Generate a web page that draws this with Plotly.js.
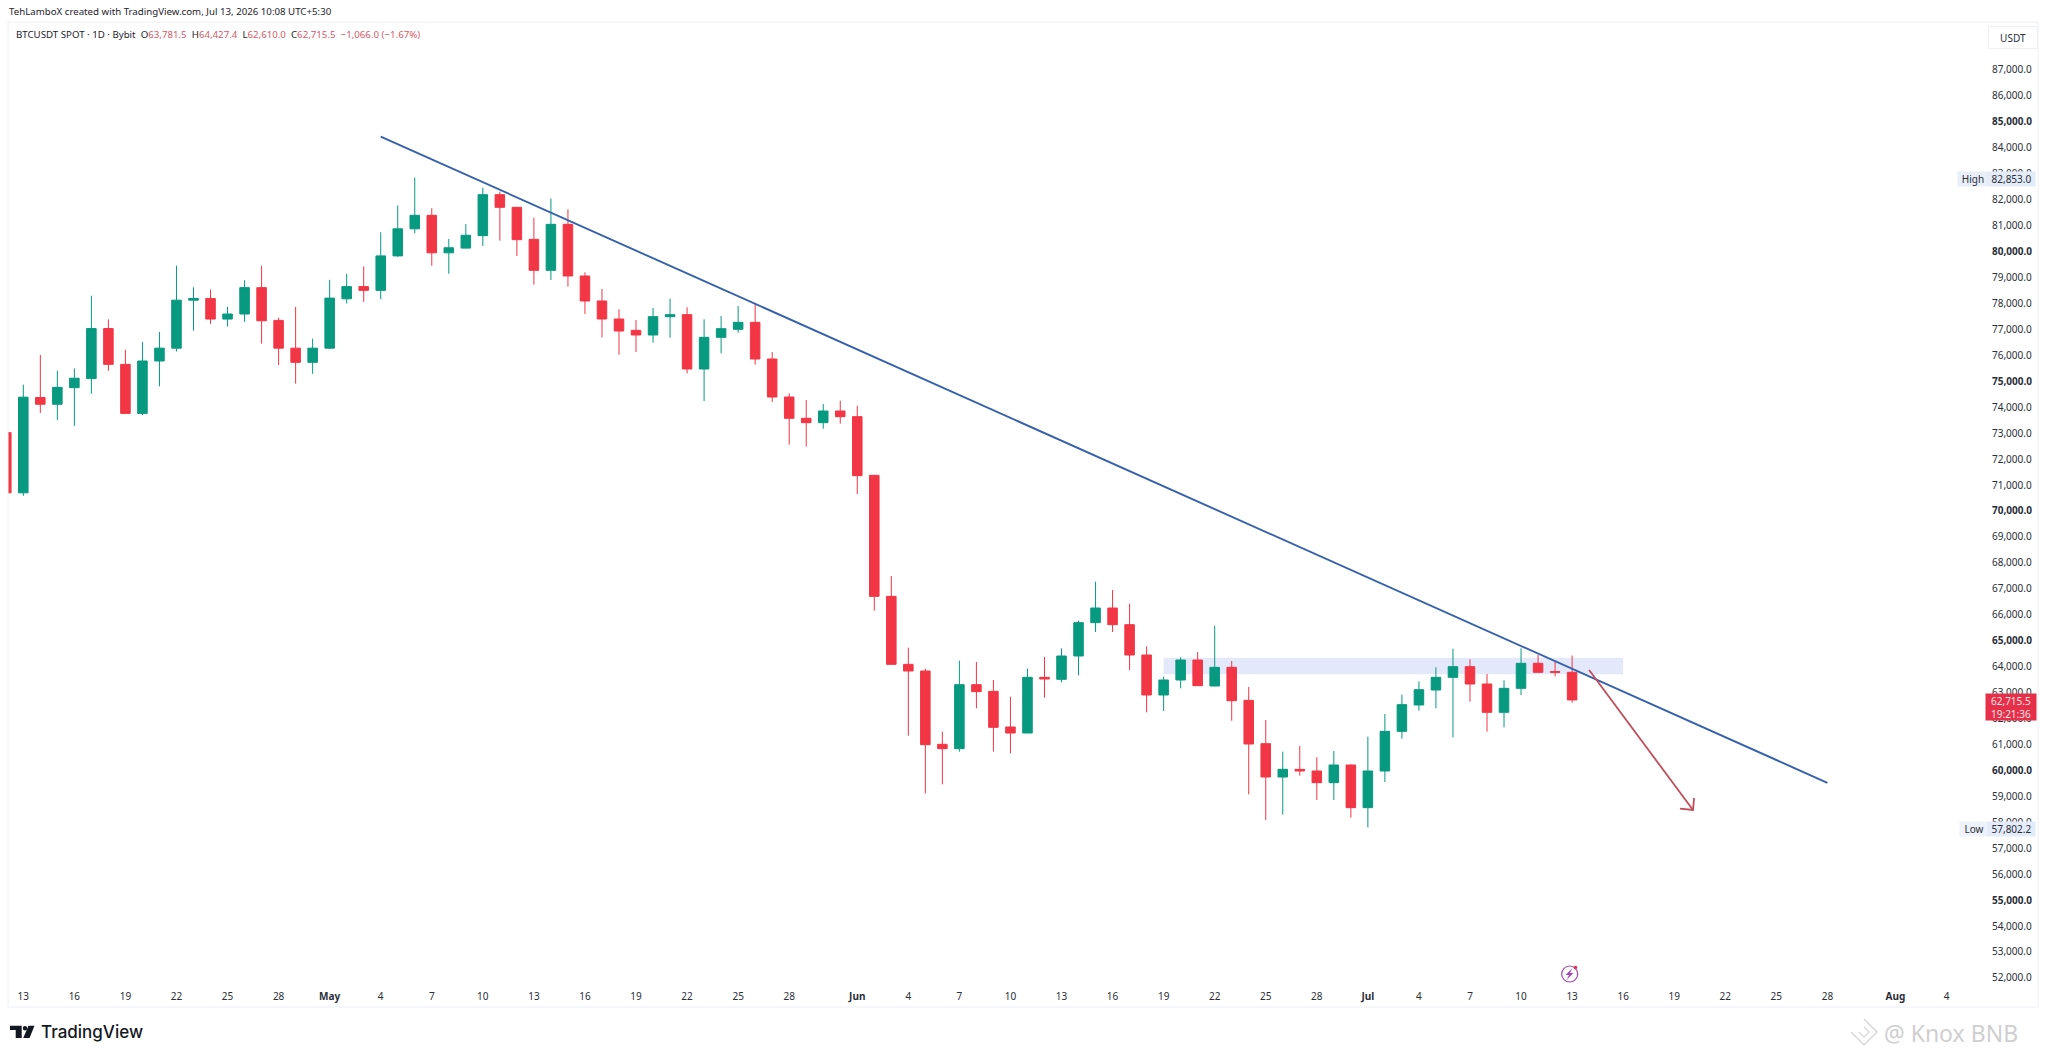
<!DOCTYPE html>
<html>
<head>
<meta charset="utf-8">
<script src="https://cdn.plot.ly/plotly-3.0.1.min.js"></script>
<style>html,body{margin:0;padding:0;background:#fff}#chart{width:2048px;height:1057px}</style>
</head>
<body>
<div id="chart"></div>
<script>
var dates = ["2026-04-12","2026-04-13","2026-04-14","2026-04-15","2026-04-16","2026-04-17","2026-04-18","2026-04-19","2026-04-20","2026-04-21","2026-04-22","2026-04-23","2026-04-24","2026-04-25","2026-04-26","2026-04-27","2026-04-28","2026-04-29","2026-04-30",
"2026-05-01","2026-05-02","2026-05-03","2026-05-04","2026-05-05","2026-05-06","2026-05-07","2026-05-08","2026-05-09","2026-05-10","2026-05-11","2026-05-12","2026-05-13","2026-05-14","2026-05-15","2026-05-16","2026-05-17","2026-05-18","2026-05-19","2026-05-20","2026-05-21","2026-05-22","2026-05-23","2026-05-24","2026-05-25","2026-05-26","2026-05-27","2026-05-28","2026-05-29","2026-05-30","2026-05-31",
"2026-06-01","2026-06-02","2026-06-03","2026-06-04","2026-06-05","2026-06-06","2026-06-07","2026-06-08","2026-06-09","2026-06-10","2026-06-11","2026-06-12","2026-06-13","2026-06-14","2026-06-15","2026-06-16","2026-06-17","2026-06-18","2026-06-19","2026-06-20","2026-06-21","2026-06-22","2026-06-23","2026-06-24","2026-06-25","2026-06-26","2026-06-27","2026-06-28","2026-06-29","2026-06-30",
"2026-07-01","2026-07-02","2026-07-03","2026-07-04","2026-07-05","2026-07-06","2026-07-07","2026-07-08","2026-07-09","2026-07-10","2026-07-11","2026-07-12","2026-07-13"];

var opens = [73020,70700,74375,74114,74753,75104,77033,75652,73762,75782,76277,78127,78193,77398,77593,78610,77346,76277,75730,
76277,78180,78649,78505,79834,80877,81398,79952,80134,80614,82194,81706,80472,79277,81050,79059,78095,77401,76964,76784,77491,77568,75474,76694,77003,77272,75859,74394,73572,73405,73854,
73636,71375,66709,64088,63831,61005,60837,63305,63048,61673,61441,63587,63510,64410,65695,66260,65618,64448,62906,63485,64255,63253,63973,62700,61030,59745,60041,59976,59527,60208,
58563,59976,61505,62521,63099,63587,63999,63330,62238,63163,64127,63810,63781.5];

var closes = [70700,74388,74114,74766,75118,77033,75652,73762,75782,76277,78127,78193,77398,77593,78610,77333,76277,75730,76277,
78206,78649,78505,79834,80877,81398,79952,80147,80629,82194,81706,80459,79277,81050,79059,78095,77401,76938,76784,77491,77568,75474,76694,77028,77272,75859,74394,73572,73405,73854,73636,
71362,66709,64088,63831,60992,60837,63305,63035,61660,61441,63587,63523,64410,65695,66260,65618,64448,62906,63485,64255,63266,63973,62687,61017,59745,60041,59976,59527,60208,58563,
59976,61505,62534,63112,63587,63999,63330,62238,63163,64127,63780,63781.5,62715.5];

var highs = [73020,74870,76017,75404,75495,78297,77385,76212,76512,76902,79456,78623,78531,77867,78896,79456,77450,77867,76642,
78909,79144,79430,80746,81776,82853,81672,80486,81059,82464,82310,81706,81307,82040,81629,79200,78558,77774,77362,77825,78185,77851,77388,77517,77902,78005,76129,74535,74279,74124,74253,
74060,71375,67494,64731,63921,61493,64230,64178,63485,62842,63921,64371,64705,65772,67275,66954,66427,64782,63613,64358,64564,65579,64217,63215,61943,60722,60940,60503,60747,60233,
61300,62174,62919,63433,63973,64692,64281,63716,63471,64705,64448,64191,64427.4];

var lows = [70700,70583,73775,73502,73280,74518,75404,73736,73697,74805,76147,76955,77215,77111,77294,76447,75626,74909,75287,
76251,77997,78062,78166,79795,80707,79456,79144,80121,80215,80421,79830,78725,78904,78647,77594,76694,76026,76129,76489,76681,75307,74240,76078,76874,75640,74201,72557,72479,73173,73366,
70655,66157,64088,61338,59115,59463,60722,62392,60722,60658,61441,62803,63395,63664,65335,65335,63870,62238,62289,63163,63266,63240,61917,59077,58087,58293,59797,58858,58858,58177,
57802.2,59552,61223,62302,62392,61274,62649,61493,61660,62906,63780,63626,62610];

var trendX = ["2026-05-04","2026-07-28"];
var trendY = [84433,59521];

var zoneX = ["2026-06-19","2026-07-16"];
var zoneY = [63703,64345];

var arrowX = ["2026-07-14 00:00","2026-07-20 02:30",null,"2026-07-19 08:00","2026-07-20 02:30","2026-07-20 04:00"];
var arrowY = [63870,58473,null,58523,58473,58935];

var xTickDates = ["2026-04-13","2026-04-16","2026-04-19","2026-04-22","2026-04-25","2026-04-28","2026-05-01","2026-05-04","2026-05-07","2026-05-10","2026-05-13","2026-05-16","2026-05-19","2026-05-22","2026-05-25","2026-05-28","2026-06-01","2026-06-04","2026-06-07","2026-06-10","2026-06-13","2026-06-16","2026-06-19","2026-06-22","2026-06-25","2026-06-28","2026-07-01","2026-07-04","2026-07-07","2026-07-10","2026-07-13","2026-07-16","2026-07-19","2026-07-22","2026-07-25","2026-07-28","2026-08-01","2026-08-04"];
var xTickLabels = ["13","16","19","22","25","28","<b>May</b>","4","7","10","13","16","19","22","25","28","<b>Jun</b>","4","7","10","13","16","19","22","25","28","<b>Jul</b>","4","7","10","13","16","19","22","25","28","<b>Aug</b>","4"];

var yTickVals = [52000,53000,54000,55000,56000,57000,58000,59000,60000,61000,62000,63000,64000,65000,66000,67000,68000,69000,70000,71000,72000,73000,74000,75000,76000,77000,78000,79000,80000,81000,82000,83000,84000,85000,86000,87000];
var yTickLabels = yTickVals.map(function(v){
  var s = v.toLocaleString("en-US") + ".0";
  return v % 5000 === 0 ? "<b>" + s + "</b>" : s;
});

var FONT = "Noto Sans";
var GREEN = "#089981", RED = "#f23645";
var L = 8, R = 1985, T = 22, B = 985;
function px(x){ return (x - L) / (R - L); }
function py(y){ return (B - y) / (B - T); }

function label(x, y, text, opts){
  var a = {xref:"paper", yref:"paper", x:px(x), y:py(y), text:text, showarrow:false,
    xanchor:"left", yanchor:"middle", borderpad:0, font:{family:FONT, size:10, color:"#2a2e39"}};
  for (var k in (opts||{})) a[k] = opts[k];
  return a;
}
function frame(x0,y0,x1,y1){
  return {type:"line", xref:"paper", yref:"paper", x0:px(x0), y0:py(y0), x1:px(x1), y1:py(y1),
    line:{color:"#eef0f5", width:1}};
}
function path(pts, fill, line){
  var d = pts.map(function(p,i){ return (i?"L":"M") + px(p[0]) + "," + py(p[1]); }).join(" ");
  if (fill) d += " Z";
  return {type:"path", xref:"paper", yref:"paper", path:d, fillcolor:fill||"rgba(0,0,0,0)",
    line: line||{width:0}, layer:"above"};
}
function circle(cx,cy,r,fill,line){
  return {type:"circle", xref:"paper", yref:"paper", x0:px(cx-r), x1:px(cx+r), y0:py(cy+r), y1:py(cy-r),
    fillcolor:fill||"rgba(0,0,0,0)", line:line||{width:0}, layer:"above"};
}

var red = function(s){ return '<span style="color:#d65a68">' + s + '</span>'; };
var header = "BTCUSDT SPOT · 1D · Bybit  O" + red("63,781.5") + "  H" + red("64,427.4") + "  L" + red("62,610.0") + "  C" + red("62,715.5") + "  " + red("−1,066.0 (−1.67%)");

var annotations = [
  label(8, 12, "TehLamboX created with TradingView.com, Jul 13, 2026 10:08 UTC+5:30", {font:{family:FONT,size:9.7,color:"#1e222d"}}),
  label(15, 34, header, {font:{family:FONT,size:9.7,color:"#1e222d"}}),
  label(2012.5, 37, "USDT", {xanchor:"center", width:48, height:21, bordercolor:"#eef0f5", borderwidth:1, bgcolor:"#fff", align:"center"}),
  label(1973, 179, "High", {xanchor:"center", width:30, height:14, bgcolor:"#e9eff9", align:"center"}),
  label(2011.5, 179, "82,853.0", {xanchor:"center", width:47, height:14, bgcolor:"#e4ecf9", align:"center"}),
  label(1974, 829, "Low", {xanchor:"center", width:28, height:14, bgcolor:"#eef3fb", align:"center"}),
  label(2011.5, 829, "57,802.2", {xanchor:"center", width:47, height:14, bgcolor:"#e4ecf9", align:"center"}),
  label(2010.75, 707, "62,715.5<br>19:21:36", {xanchor:"center", width:50, height:26, bgcolor:"#e6304a", align:"center", font:{family:FONT,size:10,color:"#fbe3e6"}}),
  label(40, 1032, "TradingView", {font:{family:"Inter",size:17,weight:500,color:"#131722"}}),
  label(1883, 1033, "@ Knox BNB", {font:{family:"Noto Sans",size:23,color:"#cfcfcf"}})
];

var shapes = [
  {type:"rect", xref:"x", yref:"y", x0:zoneX[0], x1:zoneX[1], y0:zoneY[0], y1:zoneY[1], fillcolor:"#e3e9fb", line:{width:0}, layer:"below"},
  frame(8,22,2038,22), frame(8,22,8,1007), frame(8,1007,2038,1007), frame(2038,22,2038,1007),
  // TradingView logo
  path([[10,1025.7],[21.7,1025.7],[21.7,1038],[15.7,1038],[15.7,1030],[10,1030]], "#131722"),
  circle(25,1028.2,2.2,"#131722"),
  path([[28.5,1025.7],[34.5,1025.7],[29.5,1038],[23.2,1038]], "#131722"),
  // event marker
  circle(1569.7,974,8,"#fff",{color:"#a24ab5",width:1.2}),
  path([[1572.5,968],[1565.5,975],[1569,975],[1566.5,980],[1573.5,973],[1570,973]], "#a24ab5"),
  circle(1575.5,967.5,1.8,"#e6304a"),
  // watermark diamond
  path([[1864,1019],[1877,1032],[1864,1045],[1851,1032]], null, {color:"#d8d8d8",width:1.5}),
  path([[1864,1027],[1869,1032],[1864,1037],[1859,1032]], null, {color:"#d8d8d8",width:1.2})
];

var traces = [
  {type:"candlestick", x:dates, open:opens, high:highs, low:lows, close:closes,
    increasing:{line:{color:GREEN,width:1}, fillcolor:GREEN},
    decreasing:{line:{color:RED,width:1}, fillcolor:RED},
    whiskerwidth:0, showlegend:false, hoverinfo:"skip"},
  {type:"scatter", mode:"lines", x:trendX, y:trendY, line:{color:"#3560ad",width:1.9}, showlegend:false, hoverinfo:"skip"},
  {type:"scatter", mode:"lines", x:arrowX, y:arrowY, line:{color:"#c24d5a",width:1.8}, connectgaps:false, showlegend:false, hoverinfo:"skip"}
];

var layout = {
  width:2048, height:1057, autosize:false, showlegend:false, boxgap:0.2,
  paper_bgcolor:"#fff", plot_bgcolor:"#fff",
  margin:{l:L, r:2048-R, t:T, b:1057-B, pad:0},
  font:{family:FONT, size:10, color:"#2a2e39"},
  xaxis:{type:"date", range:["2026-04-12 02:25","2026-08-06 06:14"], rangeslider:{visible:false},
    tickmode:"array", tickvals:xTickDates, ticktext:xTickLabels, tickangle:0,
    showgrid:false, zeroline:false, showline:false, ticks:"", ticklabelstandoff:4,
    tickfont:{family:FONT,size:10,color:"#2a2e39"}, automargin:false},
  yaxis:{side:"right", range:[51727,88850], tickmode:"array", tickvals:yTickVals, ticktext:yTickLabels,
    showgrid:false, zeroline:false, showline:false, ticks:"", ticklabelstandoff:6,
    tickfont:{family:FONT,size:10,color:"#2a2e39"}, automargin:false},
  shapes:shapes, annotations:annotations
};

Plotly.newPlot("chart", traces, layout, {staticPlot:true, displayModeBar:false});
</script>
</body>
</html>
